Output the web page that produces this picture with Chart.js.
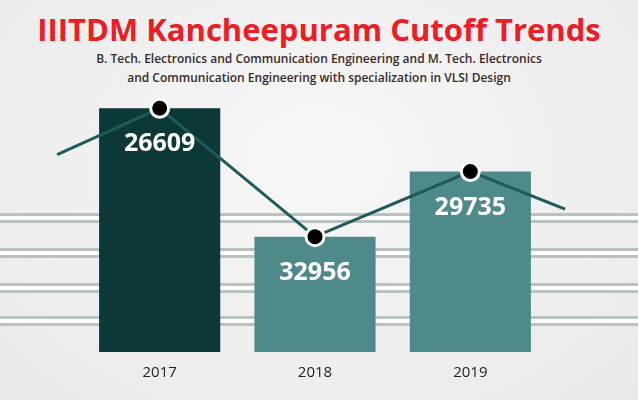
<!DOCTYPE html>
<html><head><meta charset="utf-8">
<script src="https://cdn.jsdelivr.net/npm/chart.js@4"></script>
<style>
html,body{margin:0;padding:0;}
#wrap{position:relative;width:638px;height:400px;overflow:hidden;
background:radial-gradient(ellipse at 50% 40%,#f7f7f7 0%,#e9e9e9 100%);font-family:"Open Sans",sans-serif;}
.stripe{position:absolute;left:0;width:638px;height:10px;background:#fff;border-top:3px solid #b9c2c2;border-bottom:3px solid #b9c2c2;box-sizing:border-box;}
#title{position:absolute;top:9px;left:0;width:638px;text-align:center;color:#ee1c25;font-weight:bold;font-size:31px;line-height:40px;}
#sub{position:absolute;top:49px;left:0;width:638px;text-align:center;color:#3a2a2a;font-weight:600;font-size:12px;line-height:19px;}
canvas{position:absolute;left:0;top:0;}
</style></head><body>
<div id="wrap">
<div class="stripe" style="top:213px"></div>
<div class="stripe" style="top:248px"></div>
<div class="stripe" style="top:283px"></div>
<div class="stripe" style="top:316px"></div>
<div id="title">IIITDM Kancheepuram Cutoff Trends</div>
<div id="sub">B. Tech. Electronics and Communication Engineering and M. Tech. Electronics<br>and Communication Engineering with specialization in VLSI Design</div>
<canvas id="c" width="638" height="400"></canvas>
</div>
<script>
const years = ['2017','2018','2019'];
const cutoffs = [26609, 32956, 29735];
const barColors = ['#0c3837','#4f8a8b','#4f8a8b'];
const trendX = [-0.66, 0, 1, 2, 2.61];
const trendY = [28900, 26609, 32956, 29735, 31600];

const labelPlugin = {
  id:'lbl',
  afterDatasetsDraw(chart){
    const ctx = chart.ctx, meta = chart.getDatasetMeta(0);
    ctx.save();
    ctx.fillStyle='#fff'; ctx.font='bold 25px "Open Sans", sans-serif';
    ctx.textAlign='center'; ctx.textBaseline='middle';
    meta.data.forEach((b,i)=>ctx.fillText(String(cutoffs[i]), b.x, b.y+36));
    ctx.restore();
  }
};
new Chart(document.getElementById('c'),{
  data:{labels:years,datasets:[
    {type:'bar',data:cutoffs,backgroundColor:barColors,base:38660,grouped:false,categoryPercentage:1,barPercentage:0.78,order:2},
    {type:'line',xAxisID:'x2',data:trendX.map((x,i)=>({x,y:trendY[i]})),borderColor:'#1f5b5c',borderWidth:3,
     pointRadius:[0,9,9,9,0],pointBackgroundColor:'#000',pointBorderColor:'#fff',pointBorderWidth:3,clip:false,order:1}
  ]},
  options:{responsive:false,animation:false,
    layout:{padding:{top:100,left:82,right:90,bottom:14}},
    plugins:{legend:{display:false},tooltip:{enabled:false}},
    scales:{
      x:{grid:{display:false},border:{display:false},ticks:{color:'#222',font:{size:15,family:'"Open Sans", sans-serif'},padding:4}},
      x2:{type:'linear',min:-0.5,max:2.5,display:false},
      y:{min:26200,max:38660,reverse:true,display:false}
    }},
  plugins:[labelPlugin]
});
</script></body></html>
